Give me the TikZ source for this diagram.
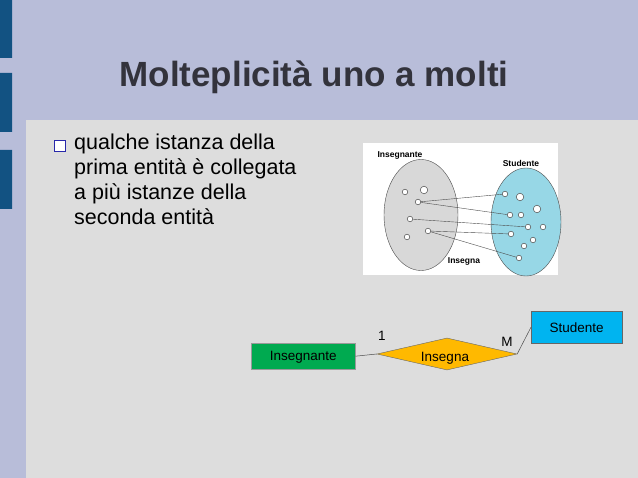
\documentclass[tikz,border=0pt]{standalone}
\usepackage{fontspec}
\setmainfont{Liberation Sans}
\usetikzlibrary{shapes.geometric}
\begin{document}
\begin{tikzpicture}[x=1pt,y=-1pt,
  dot/.style={circle, draw=black!70, fill=white, inner sep=0pt, minimum size=5.5pt, line width=0.5pt},
  bdot/.style={dot, minimum size=7.5pt},
  lnk/.style={draw=black!70, line width=0.4pt},
  ent/.style={draw=black!40, anchor=north west, inner xsep=6pt, inner ysep=3pt, font=\fontsize{13.5}{15}\selectfont, align=left, text depth=0pt},
  conn/.style={draw=black!70, line width=0.5pt}]
\useasboundingbox (0,0) rectangle (638,478);
\fill[fill={rgb,255:red,184;green,189;blue,217}] (0,0) rectangle (638,478);
\fill[fill={rgb,255:red,221;green,221;blue,221}] (26,120) rectangle (638,478);
\fill[fill={rgb,255:red,18;green,82;blue,130}] (0,0) rectangle (12,58) (0,73) rectangle (12,132) (0,150) rectangle (12,209);
% title
\node (title) [font=\bfseries\fontsize{35}{40}\selectfont, text={rgb,255:red,51;green,51;blue,60}] at (314,77) {Molteplicità uno a molti};
% bullet
\node (bul) [draw={rgb,255:red,40;green,40;blue,170}, fill=white, line width=0.8pt, minimum size=11pt, inner sep=0pt] at (60,146) {};
\node (txt) [anchor=north west, align=left, font=\fontsize{21.5}{25}\selectfont, inner sep=0pt] at (74,134)
 {qualche istanza della\\prima entità è collegata\\a più istanze della\\seconda entità};
% inset picture
\fill[white] (363,143) rectangle (558,275);
\node[ellipse, draw=black!70, fill={rgb,255:red,216;green,216;blue,216}, minimum width=74pt, minimum height=111pt, inner sep=0pt] (e1) at (421,215) {};
\node[ellipse, draw=black!70, fill={rgb,255:red,151;green,215;blue,230}, minimum width=70pt, minimum height=108pt, inner sep=0pt] (e2) at (526,222) {};
\node[font=\bfseries\fontsize{8.5}{9}\selectfont] (l1) at (400,155) {Insegnante};
\node[font=\bfseries\fontsize{8.5}{9}\selectfont] (l2) at (521,163) {Studente};
\node[font=\bfseries\fontsize{8.5}{9}\selectfont] (l3) at (464,261) {Insegna};
\node[dot] (a1) at (405,192) {};
\node[bdot] (a2) at (424,190) {};
\node[dot] (a3) at (418,202) {};
\node[dot] (a4) at (410,219) {};
\node[dot] (a5) at (428,231) {};
\node[dot] (a6) at (407,237) {};
\node[dot] (b1) at (505,194) {};
\node[bdot] (b2) at (520,197) {};
\node[bdot] (b3) at (537,209) {};
\node[dot] (b4) at (510,215) {};
\node[dot] (b5) at (521,215) {};
\node[dot] (b6) at (528,227) {};
\node[dot] (b7) at (543,227) {};
\node[dot] (b8) at (511,234) {};
\node[dot] (b9) at (533,240) {};
\node[dot] (b10) at (524,246) {};
\node[dot] (b11) at (519,258) {};
\foreach \u/\v in {a3/b1,a3/b4,a4/b6,a5/b8,a5/b11} \draw[lnk] (\u) -- (\v);
% ER diagram
\node[ent, fill={rgb,255:red,0;green,170;blue,80}, minimum width=104pt, minimum height=26pt] (ins) at (251,343) {Insegnante};
\node[ent, fill={rgb,255:red,0;green,180;blue,240}, draw=black!60, minimum width=91pt, minimum height=32pt] (stu) at (531,311) {Studente};
\node[diamond, aspect=4.4, draw=black!60, fill={rgb,255:red,255;green,185;blue,0}, minimum width=140pt, minimum height=32pt, inner sep=0pt] (rel) at (447,354) {};
\node[font=\fontsize{13.5}{15}\selectfont] (rl) at (445,358) {Insegna};
\draw[conn] (ins.east) -- (rel.west);
\draw[conn] (rel.east) -- (stu.west);
\node[font=\fontsize{13.5}{15}\selectfont] (one) at (382,336) {1};
\node[font=\fontsize{13.5}{15}\selectfont] (m) at (507,342) {M};
\end{tikzpicture}
\end{document}
